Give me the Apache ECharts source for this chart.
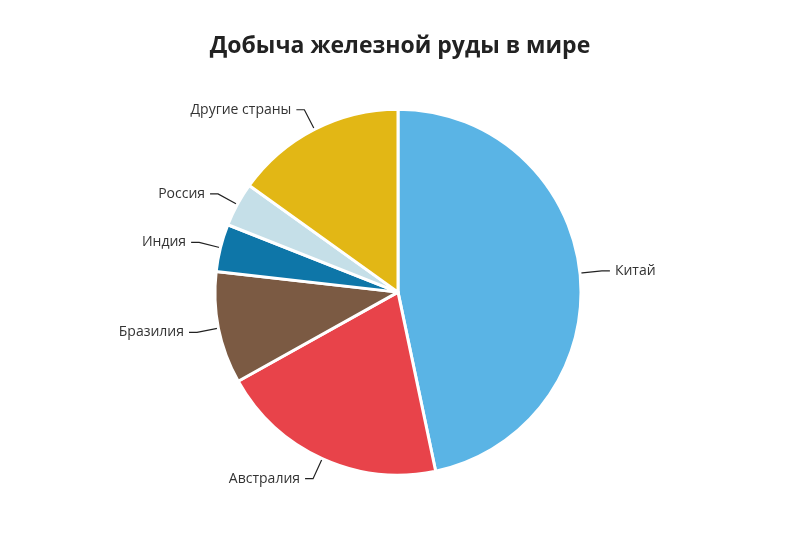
<!DOCTYPE html>
<html><head><meta charset="utf-8">
<script src="https://cdn.jsdelivr.net/npm/echarts@6/dist/echarts.min.js"></script>
<style>html,body{margin:0;background:#fff}#c{width:800px;height:544px}</style>
</head><body><div id="c"></div>
<script>
const categories = ['Китай','Австралия','Бразилия','Индия','Россия','Другие страны'];
const values = [46.7, 20.2, 9.9, 4.2, 3.9, 15.1];
const colors = ['#5ab4e5','#e8434a','#7b5a43','#0e76a8','#c5dfe8','#e2b715'];
const chart = echarts.init(document.getElementById('c'));
chart.setOption({
  title:{text:'Добыча железной руды в мире',left:'center',top:30,
    textStyle:{fontFamily:'Open Sans',fontSize:23,fontWeight:'bold',color:'#222'}},
  series:[{type:'pie',center:['49.75%','53.7%'],radius:183,startAngle:90,clockwise:true,
    data:categories.map((n,i)=>({name:n,value:values[i],itemStyle:{color:colors[i]}})),
    itemStyle:{borderColor:'#fff',borderWidth:3},
    label:{color:'#333',fontFamily:'Open Sans',fontSize:14},
    labelLine:{length:22,length2:8,lineStyle:{color:'#222',width:1.2}}
  }]
});
</script></body></html>
